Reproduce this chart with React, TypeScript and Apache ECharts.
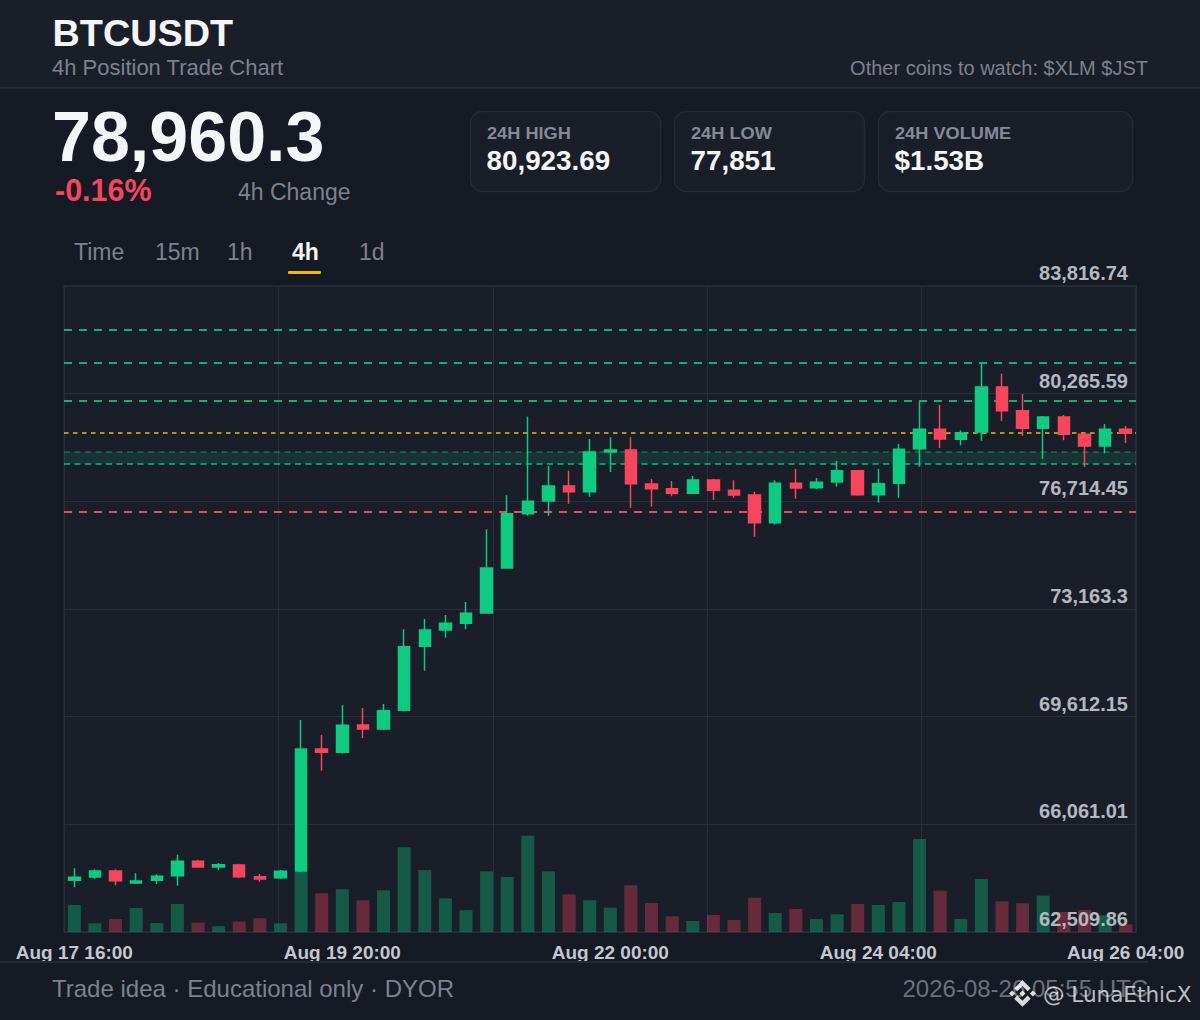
import React, { useEffect, useRef } from "react";
import * as echarts from "echarts";

const categories = [
  "Aug 17 16:00","Aug 17 20:00","Aug 18 00:00","Aug 18 04:00","Aug 18 08:00","Aug 18 12:00","Aug 18 16:00","Aug 18 20:00",
  "Aug 19 00:00","Aug 19 04:00","Aug 19 08:00","Aug 19 12:00","Aug 19 16:00","Aug 19 20:00","Aug 20 00:00","Aug 20 04:00",
  "Aug 20 08:00","Aug 20 12:00","Aug 20 16:00","Aug 20 20:00","Aug 21 00:00","Aug 21 04:00","Aug 21 08:00","Aug 21 12:00",
  "Aug 21 16:00","Aug 21 20:00","Aug 22 00:00","Aug 22 04:00","Aug 22 08:00","Aug 22 12:00","Aug 22 16:00","Aug 22 20:00",
  "Aug 23 00:00","Aug 23 04:00","Aug 23 08:00","Aug 23 12:00","Aug 23 16:00","Aug 23 20:00","Aug 24 00:00","Aug 24 04:00",
  "Aug 24 08:00","Aug 24 12:00","Aug 24 16:00","Aug 24 20:00","Aug 25 00:00","Aug 25 04:00","Aug 25 08:00","Aug 25 12:00",
  "Aug 25 16:00","Aug 25 20:00","Aug 26 00:00","Aug 26 04:00",
];
const shownLabels = [0, 13, 26, 39, 51];

// open, close, low, high
const candles = [
  [64215,64314,63984,64611],[64324,64522,64268,64578],[64522,64202,64050,64578],[64126,64192,64093,64446],
  [64215,64347,64093,64413],[64367,64842,64037,65060],[64842,64654,64631,64895],[64654,64730,64555,64786],
  [64720,64334,64281,64762],[64334,64258,64169,64423],[64301,64512,64268,64555],[64522,68546,64479,69502],
  [68546,68437,67830,69007],[68437,69327,68391,69997],[69337,69205,68909,69898],[69205,69809,69172,70030],
  [69822,71920,69776,72494],[71933,72471,71128,72833],[72471,72692,72217,72965],[72692,73021,72504,73394],
  [73031,74516,73020,75792],[74516,76307,74500,76914],[76307,76716,76241,79506],[76726,77220,76241,77880],
  [77220,77032,76636,77725],[77032,78342,76867,78770],[78342,78408,77682,78827],[78408,77296,76505,78827],
  [77286,77131,76538,77451],[77131,76979,76881,77385],[76979,77418,76956,77550],[77418,77078,76768,77461],
  [77078,76923,76834,77408],[76923,76010,75548,77032],[76010,77309,75944,77408],[77309,77154,76801,77781],
  [77164,77342,77121,77484],[77352,77725,77198,78045],[77725,76933,76900,77748],[76933,77296,76669,77781],
  [77309,78431,76834,78606],[78451,79090,77857,80001],[79090,78770,78474,79892],[78761,78968,78563,79057],
  [79001,80486,78714,81267],[80486,79704,79364,80923.69],[79704,79123,78879,80255],[79123,79496,78121,79529],
  [79496,78925,78728,79562],[78925,78540,77851,78959],[78540,79090,78299,79265],[79090,78960.3,78639,79199],
];

const volumes = [
  316,102,152,281,105,328,109,67,121,160,102,706,453,500,371,488,991,725,394,254,710,644,1127,710,441,371,
  284,546,339,184,129,199,140,401,222,269,152,207,328,316,351,1088,483,152,620,359,336,425,234,257,195,90,
];

const yTickLabels = ["62,509.86","66,061.01","69,612.15","73,163.3","76,714.45","80,265.59","83,816.74"];
const priceMin = 62509.86;
const priceMax = 83816.74;
const volumeAxisMax = 7558;

const targetLines = [82365, 81277, 80024];
const entryLow = 77946;
const entryHigh = 78341;
const lastPrice = 78960.3;
const stopPrice = 76363;

const UP = "#0ecb81";
const DOWN = "#f6465d";
const GRID = "#2a2e3b";
const FONT = "'Liberation Sans', Arial, Helvetica, sans-serif";
const WATERMARK_FONT = "'DejaVu Sans', sans-serif";
const BINANCE =
  "M16.624 13.9202l2.7175 2.7154-7.353 7.353-7.353-7.352 2.7175-2.7164 4.6355 4.6595 4.6356-4.6595zm4.6366-4.6366L24 12l-2.7154 2.7164L18.5682 12l2.6924-2.7164zm-9.272.001l2.7163 2.6914-2.7164 2.7174v-.001L9.2721 12l2.7164-2.7154zm-9.2722-.001L5.4088 12l-2.6914 2.6924L0 12l2.7164-2.7164zM11.9885.0115l7.353 7.329-2.7174 2.7154-4.6356-4.6356-4.6355 4.6595-2.7174-2.7154 7.353-7.353z";

echarts.graphic.registerShape("binanceLogo", echarts.graphic.extendPath(BINANCE, {}) as any);

function txt(text: string, x: number, y: number, size: number, color: string, extra: any = {}) {
  const { weight, align, scaleX, z, opacity, family } = extra;
  return {
    type: "text",
    x,
    y,
    scaleX: scaleX ?? 1,
    z: z ?? 20,
    style: {
      text,
      fill: color,
      opacity: opacity ?? 1,
      font: `${weight ?? "normal"} ${size}px ${family ?? FONT}`,
      textAlign: align ?? "left",
      textVerticalAlign: "middle",
      textBaseline: "middle",
    },
  };
}

function card(x: number, w: number, label: string, value: string, scale: number) {
  return [
    {
      type: "rect",
      z: 1,
      shape: { x: x + 0.5, y: 111.5, width: w, height: 80, r: 12 },
      style: { fill: "#1a1e29", stroke: "#262a36", lineWidth: 1.5 },
    },
    txt(label, x + 17, 133.5, 17, "#848a97", { weight: "bold", scaleX: scale }),
    txt(value, x + 16.5, 160, 27.8, "#f4f5f7", { weight: "bold" }),
  ];
}

export default function App() {
  const ref = useRef<HTMLDivElement>(null);
  useEffect(() => {
    document.body.style.margin = "0";
    document.body.style.background = "#161a25";
    const chart = echarts.init(ref.current!, undefined, { renderer: "svg" });
    const graphic: any[] = [
      { type: "rect", z: -10, shape: { x: 0, y: 0, width: 1200, height: 88 }, style: { fill: "#1a1e29" } },
      { type: "line", z: 1, shape: { x1: 0, y1: 88, x2: 1200, y2: 88 }, style: { stroke: "#262a36", lineWidth: 2 } },
      { type: "line", z: 1, shape: { x1: 0, y1: 962, x2: 1148, y2: 962 }, style: { stroke: "#262a36", lineWidth: 2 } },
      txt("BTCUSDT", 52.5, 33.5, 36, "#f4f5f7", { weight: "bold", scaleX: 1.05 }),
      txt("4h Position Trade Chart", 52, 67.5, 22, "#7d828e"),
      txt("Other coins to watch: $XLM $JST", 1148, 68, 20, "#7d828e", { align: "right" }),
      txt("78,960.3", 52, 137, 70, "#f4f5f7", { weight: "bold" }),
      txt("-0.16%", 55, 190, 30.5, DOWN, { weight: "bold" }),
      txt("4h Change", 238, 192, 23, "#7d828e"),
      ...card(470, 190, "24H HIGH", "80,923.69", 1.07),
      ...card(674, 190, "24H LOW", "77,851", 1.07),
      ...card(878, 254, "24H VOLUME", "$1.53B", 1.07),
      txt("Time", 74, 251.5, 23, "#7d828e"),
      txt("15m", 155, 251.5, 23, "#7d828e"),
      txt("1h", 227, 251.5, 23, "#7d828e"),
      txt("4h", 292, 251.5, 23, "#f4f5f7", { weight: "bold" }),
      txt("1d", 359, 251.5, 23, "#7d828e"),
      { type: "rect", z: 5, shape: { x: 288, y: 271, width: 33, height: 3, r: 1 }, style: { fill: "#f0b90b" } },
      txt("Trade idea · Educational only · DYOR", 52, 988, 24, "#7d828e"),
      txt("2026-08-26 05:55 UTC", 1148, 988, 24, "#6c717d", { align: "right" }),
      {
        type: "binanceLogo",
        z: 30,
        x: 1009,
        y: 980,
        scaleX: 1.12,
        scaleY: 1.12,
        style: { fill: "#ffffff", opacity: 0.85 },
      },
      txt("@ LunaEthicX", 1043, 994, 21.5, "#ffffff", { z: 30, opacity: 0.72, family: WATERMARK_FONT }),
    ];
    chart.setOption({
      animation: false,
      backgroundColor: "#161a25",
      grid: {
        show: true,
        left: 64,
        top: 286,
        width: 1072,
        height: 646,
        backgroundColor: "#1a1e29",
        borderColor: GRID,
        borderWidth: 1.5,
      },
      graphic,
      xAxis: [
        {
          type: "category",
          data: categories,
          boundaryGap: true,
          axisLine: { show: false },
          axisTick: { show: false },
          splitLine: { show: false },
          axisLabel: {
            interval: (i: number) => shownLabels.includes(i),
            color: "#c3c7d0",
            fontFamily: FONT,
            fontWeight: "bold",
            fontSize: 19,
            margin: 11,
            hideOverlap: false,
          },
        },
        {
          type: "value",
          min: 0,
          max: 5,
          interval: 1,
          position: "bottom",
          axisLine: { show: false },
          axisTick: { show: false },
          axisLabel: { show: false },
          splitLine: { show: true, lineStyle: { color: GRID, width: 1 } },
        },
      ],
      yAxis: [
        { type: "value", min: priceMin, max: priceMax, show: false, splitLine: { show: false }, scale: true },
        { type: "value", min: 0, max: volumeAxisMax, show: false, splitLine: { show: false } },
        {
          type: "value",
          min: 0,
          max: 6,
          interval: 1,
          position: "right",
          axisLine: { show: false },
          axisTick: { show: false },
          axisLabel: { show: false },
          splitLine: { show: true, lineStyle: { color: GRID, width: 1 } },
        },
        {
          type: "value",
          min: 0,
          max: 6,
          interval: 1,
          position: "right",
          z: 10,
          axisLine: { show: false },
          axisTick: { show: false },
          splitLine: { show: false },
          axisLabel: {
            inside: true,
            margin: 8,
            color: "#b4b8c2",
            fontFamily: FONT,
            fontWeight: "bold",
            fontSize: 20,
            verticalAlign: "bottom",
            padding: [0, 0, 3, 0],
            formatter: (v: number) => yTickLabels[v],
          },
        },
      ],
      series: [
        {
          type: "bar",
          xAxisIndex: 0,
          yAxisIndex: 1,
          z: 2,
          barWidth: 13,
          silent: true,
          data: volumes.map((v, i) => ({
            value: v,
            itemStyle: { color: candles[i][1] >= candles[i][0] ? UP : DOWN, opacity: 0.35 },
          })),
        },
        {
          type: "candlestick",
          xAxisIndex: 0,
          yAxisIndex: 0,
          z: 3,
          barWidth: 12,
          data: candles,
          itemStyle: { color: UP, color0: DOWN, borderColor: UP, borderColor0: DOWN, borderWidth: 1.5 },
          markLine: {
            z: 1,
            silent: true,
            symbol: "none",
            label: { show: false },
            data: [
              ...targetLines.map((v) => ({
                yAxis: v,
                lineStyle: { color: UP, type: [8, 7], width: 1.8, opacity: 0.85 },
              })),
              { yAxis: lastPrice, lineStyle: { color: "#f0b90b", type: [4.5, 4.5], width: 1.5 } },
              { yAxis: entryHigh, lineStyle: { color: UP, type: [6, 4.5], width: 1.5, opacity: 0.45 } },
              { yAxis: entryLow, lineStyle: { color: UP, type: [6, 4.5], width: 1.5, opacity: 0.9 } },
              { yAxis: stopPrice, lineStyle: { color: DOWN, type: [8, 7], width: 1.8 } },
            ],
          },
          markArea: {
            z: 1,
            silent: true,
            itemStyle: { color: UP, opacity: 0.12 },
            data: [[{ yAxis: entryHigh }, { yAxis: entryLow }]],
          },
        },
      ],
    });
    return () => chart.dispose();
  }, []);
  return <div ref={ref} style={{ position: "absolute", left: 0, top: 0, width: 1200, height: 1020 }} />;
}
